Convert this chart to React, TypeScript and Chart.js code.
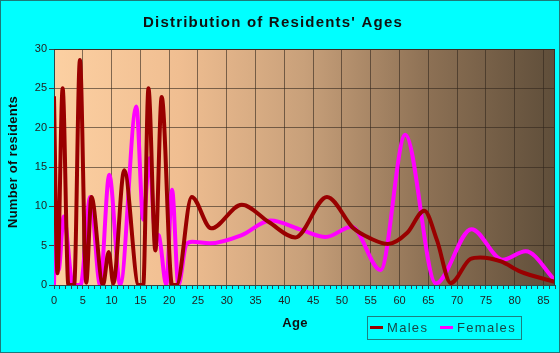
import React, { useEffect, useRef } from 'react';
import Chart from 'chart.js/auto';

const chartTitle = "Distribution of Residents' Ages";
const xTitle = 'Age';
const yTitle = 'Number of residents';
const seriesNames = ['Males', 'Females'];

const maleAges = [0, 0.6, 1.5, 2.5, 3.5, 4.5, 5.6, 6.5, 8.5, 9.5, 10.3, 12.2, 14.7, 15.5, 16.4, 17.6, 18.7, 20.5, 21.3, 23.9, 27.3, 32.6, 37.3, 41.9, 47.4, 52, 55, 58, 61.3, 64.3, 66.5, 68.9, 72.3, 74, 77.6, 81, 87];
const maleCounts = [24, 1.5, 25, 0, 0, 28.6, 0.3, 11.2, 0, 4.2, 0.2, 14.6, 0, 0, 25, 4.4, 23.9, 0, 0, 11.2, 7.2, 10.2, 8.0, 6.05, 11.2, 7.2, 5.9, 5.2, 6.6, 9.45, 5.7, 0.25, 3.3, 3.5, 3.0, 1.7, 0.4];

const femaleAges = [0, 0.3, 0.8, 1.7, 3.3, 4.6, 6.3, 8, 9.6, 11.5, 14.3, 15.5, 16.6, 17.5, 18.2, 19.5, 20.5, 21.6, 23, 24, 27, 32.6, 37.6, 43, 47.2, 51.7, 56.7, 61, 66.3, 72.5, 77.9, 81.9, 87];
const femaleCounts = [0, 8, 1.9, 8.7, 0, 0, 11.2, 0, 14, 0, 22.7, 8.3, 16.1, 6.8, 6.3, 0, 12.1, 0, 5.2, 5.5, 5.3, 6.35, 8.2, 7.0, 6.1, 7.4, 1.9, 19.1, 0.2, 7.1, 3.2, 4.3, 0.6];

const xMin = 0;
const xMax = 87;
const yMin = 0;
const yMax = 30;

const MALE_COLOR = '#990000';
const FEMALE_COLOR = '#FF00FF';
const GRID_COLOR = 'rgba(50,38,28,0.6)';
const AXIS_COLOR = '#2f4a4a';
const FONT = '"Liberation Sans", Arial, sans-serif';

const decorPlugin = {
  id: 'decor',
  beforeDraw(chart: any) {
    const { ctx, width, height, chartArea: a } = chart;
    ctx.save();
    ctx.fillStyle = '#00FFFF';
    ctx.fillRect(0, 0, width, height);
    const g = ctx.createLinearGradient(a.left, 0, a.right, 0);
    g.addColorStop(0, 'rgb(252,208,162)');
    g.addColorStop(0.25, 'rgb(240,190,145)');
    g.addColorStop(0.5, 'rgb(200,160,122)');
    g.addColorStop(0.75, 'rgb(140,112,84)');
    g.addColorStop(1, 'rgb(95,78,58)');
    ctx.fillStyle = g;
    ctx.fillRect(a.left, a.top, a.right - a.left, a.bottom - a.top);
    ctx.restore();
  },
  afterDraw(chart: any) {
    const { ctx, width, height, chartArea: a } = chart;
    ctx.save();
    // plot border top/right
    ctx.strokeStyle = '#3a3028';
    ctx.lineWidth = 1;
    ctx.beginPath();
    ctx.moveTo(a.left, a.top + 0.5);
    ctx.lineTo(a.right - 0.5, a.top + 0.5);
    ctx.lineTo(a.right - 0.5, a.bottom);
    ctx.stroke();

    // outer border
    ctx.strokeStyle = '#1c7a7a';
    ctx.strokeRect(0.5, 0.5, width - 1, height - 1);

    // title
    ctx.fillStyle = '#111';
    ctx.font = 'bold 15px ' + FONT;
    (ctx as any).letterSpacing = '1.2px';
    ctx.textAlign = 'center';
    ctx.textBaseline = 'middle';
    ctx.fillText(chartTitle, 273, 23);

    // axis titles
    (ctx as any).letterSpacing = '0.3px';
    ctx.font = 'bold 13px ' + FONT;
    ctx.fillText(xTitle, 295, 323);
    ctx.save();
    ctx.translate(13, 162);
    ctx.rotate(-Math.PI / 2);
    ctx.fillText(yTitle, 0, 0);
    ctx.restore();

    // legend
    ctx.strokeStyle = '#1c8080';
    ctx.lineWidth = 1;
    ctx.strokeRect(367.5, 316.5, 154, 23);
    ctx.lineWidth = 3;
    ctx.strokeStyle = MALE_COLOR;
    ctx.beginPath();
    ctx.moveTo(370, 327.5);
    ctx.lineTo(383, 327.5);
    ctx.stroke();
    ctx.strokeStyle = FEMALE_COLOR;
    ctx.beginPath();
    ctx.moveTo(440, 327.5);
    ctx.lineTo(453, 327.5);
    ctx.stroke();
    ctx.fillStyle = '#164848';
    ctx.font = '13px ' + FONT;
    (ctx as any).letterSpacing = '1.3px';
    ctx.textAlign = 'left';
    ctx.fillText(seriesNames[0], 387, 328);
    ctx.fillText(seriesNames[1], 457, 328);
    ctx.restore();
  },
};

export default function App() {
  const ref = useRef<HTMLCanvasElement>(null);
  useEffect(() => {
    if (!ref.current) return;
    const chart = new Chart(ref.current, {
      type: 'line',
      data: {
        datasets: [
          {
            label: seriesNames[0],
            data: maleAges.map((x, i) => ({ x, y: maleCounts[i] })),
            borderColor: MALE_COLOR,
            borderWidth: 4,
            pointRadius: 0,
            fill: false,
            cubicInterpolationMode: 'monotone',
            clip: 0,
          },
          {
            label: seriesNames[1],
            data: femaleAges.map((x, i) => ({ x, y: femaleCounts[i] })),
            borderColor: FEMALE_COLOR,
            borderWidth: 4,
            pointRadius: 0,
            fill: false,
            cubicInterpolationMode: 'monotone',
            clip: 0,
          },
        ],
      },
      options: {
        responsive: false,
        animation: false,
        events: [],
        layout: { padding: { top: 49, right: 5, left: 0, bottom: 0 } },
        plugins: {
          legend: { display: false },
          title: { display: false },
          tooltip: { enabled: false },
        },
        scales: {
          x: {
            type: 'linear',
            min: xMin,
            max: xMax,
            afterFit: (s: any) => { s.height = 68; },
            ticks: {
              stepSize: 1,
              autoSkip: false,
              maxRotation: 0,
              includeBounds: false,
              color: '#222',
              font: { size: 11, family: FONT },
              padding: 5,
              callback: (v: any) => (Number(v) % 5 === 0 ? String(v) : ''),
            },
            grid: {
              color: (c: any) => (c.tick && c.tick.value % 5 === 0 && c.tick.value !== 0 ? GRID_COLOR : 'rgba(0,0,0,0)'),
              tickColor: AXIS_COLOR,
              tickLength: 4,
              lineWidth: 1,
            },
            border: { display: true, color: AXIS_COLOR, width: 1 },
          },
          y: {
            min: yMin,
            max: yMax,
            afterFit: (s: any) => { s.width = 54; },
            ticks: {
              stepSize: 5,
              color: '#222',
              font: { size: 11, family: FONT },
              padding: 2,
            },
            grid: {
              color: (c: any) => (c.tick && c.tick.value !== 0 ? GRID_COLOR : 'rgba(0,0,0,0)'),
              tickColor: AXIS_COLOR,
              tickLength: 5,
            },
            border: { display: true, color: AXIS_COLOR, width: 1 },
          },
        },
      },
      plugins: [decorPlugin],
    } as any);
    return () => chart.destroy();
  }, []);
  return (
    <canvas
      ref={ref}
      width={560}
      height={353}
      style={{ position: 'fixed', left: 0, top: 0, display: 'block', width: 560, height: 353 }}
    />
  );
}
